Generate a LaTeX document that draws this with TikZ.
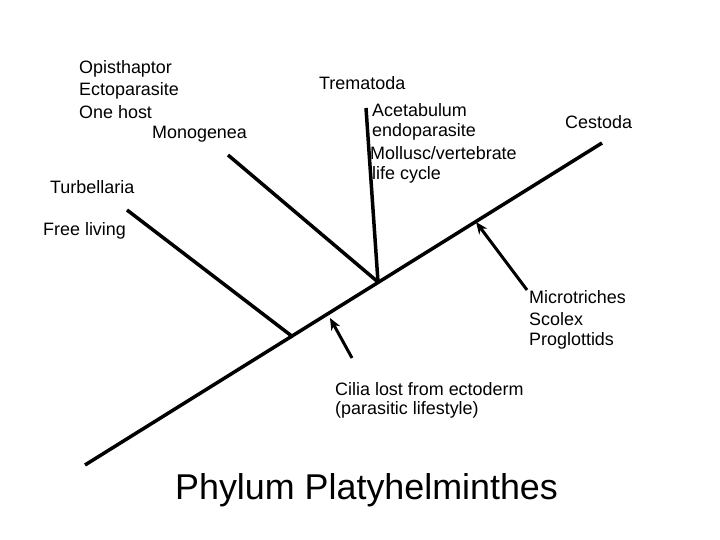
\documentclass[tikz,border=0pt]{standalone}
\usepackage{fontspec}
\setmainfont{Liberation Sans}
\usetikzlibrary{arrows.meta}
\begin{document}
\begin{tikzpicture}[x=1bp,y=-1bp,
  br/.style={line width=3.5bp,line cap=butt},
  ar/.style={line width=3bp,-{Stealth[length=12bp,width=10bp]}},
  lb/.style={anchor=west,inner sep=0pt,font=\fontsize{18}{21}\selectfont}]
\useasboundingbox (0,0) rectangle (720,540);
\coordinate (m0) at (85,465); \coordinate (m1) at (602,143);
\coordinate (t0) at (127,210); \coordinate (t1) at (293,337);
\coordinate (g0) at (228,155); \coordinate (g1) at (378,282);
\coordinate (v0) at (366,108);
\coordinate (a0) at (352,358); \coordinate (a1) at (330,318);
\coordinate (b0) at (527,290); \coordinate (b1) at (476,222);
\draw[br] (m0) -- (m1);
\draw[br] (t0) -- (t1);
\draw[br] (g0) -- (g1);
\draw[br] (v0) -- (g1);
\draw[ar] (a0) -- (a1);
\draw[ar] (b0) -- (b1);
\node[lb] (n1) at (79,69) {Opisthaptor};
\node[lb] (n2) at (79,91) {Ectoparasite};
\node[lb] (n3) at (79,112) {One host};
\node[lb] (n4) at (152,134) {Monogenea};
\node[lb] (n5) at (50,187) {Turbellaria};
\node[lb] (n6) at (43,231) {Free living};
\node[lb] (n7) at (319,83) {Trematoda};
\node[lb] (n8) at (372,110) {Acetabulum};
\node[lb] (n9) at (372,132) {endoparasite};
\node[lb] (n10) at (370,153) {Mollusc/vertebrate};
\node[lb] (n11) at (372,175) {life cycle};
\node[lb] (n12) at (565,122) {Cestoda};
\node[lb] (n13) at (529,297) {Microtriches};
\node[lb] (n14) at (529,319) {Scolex};
\node[lb] (n15) at (529,341) {Proglottids};
\node[lb] (n16) at (335,389) {Cilia lost from ectoderm};
\node[lb] (n17) at (335,410) {(parasitic lifestyle)};
\node[anchor=west,inner sep=0pt,font=\fontsize{36}{42}\selectfont] (n18) at (175,490) {Phylum Platyhelminthes};
\end{tikzpicture}
\end{document}
